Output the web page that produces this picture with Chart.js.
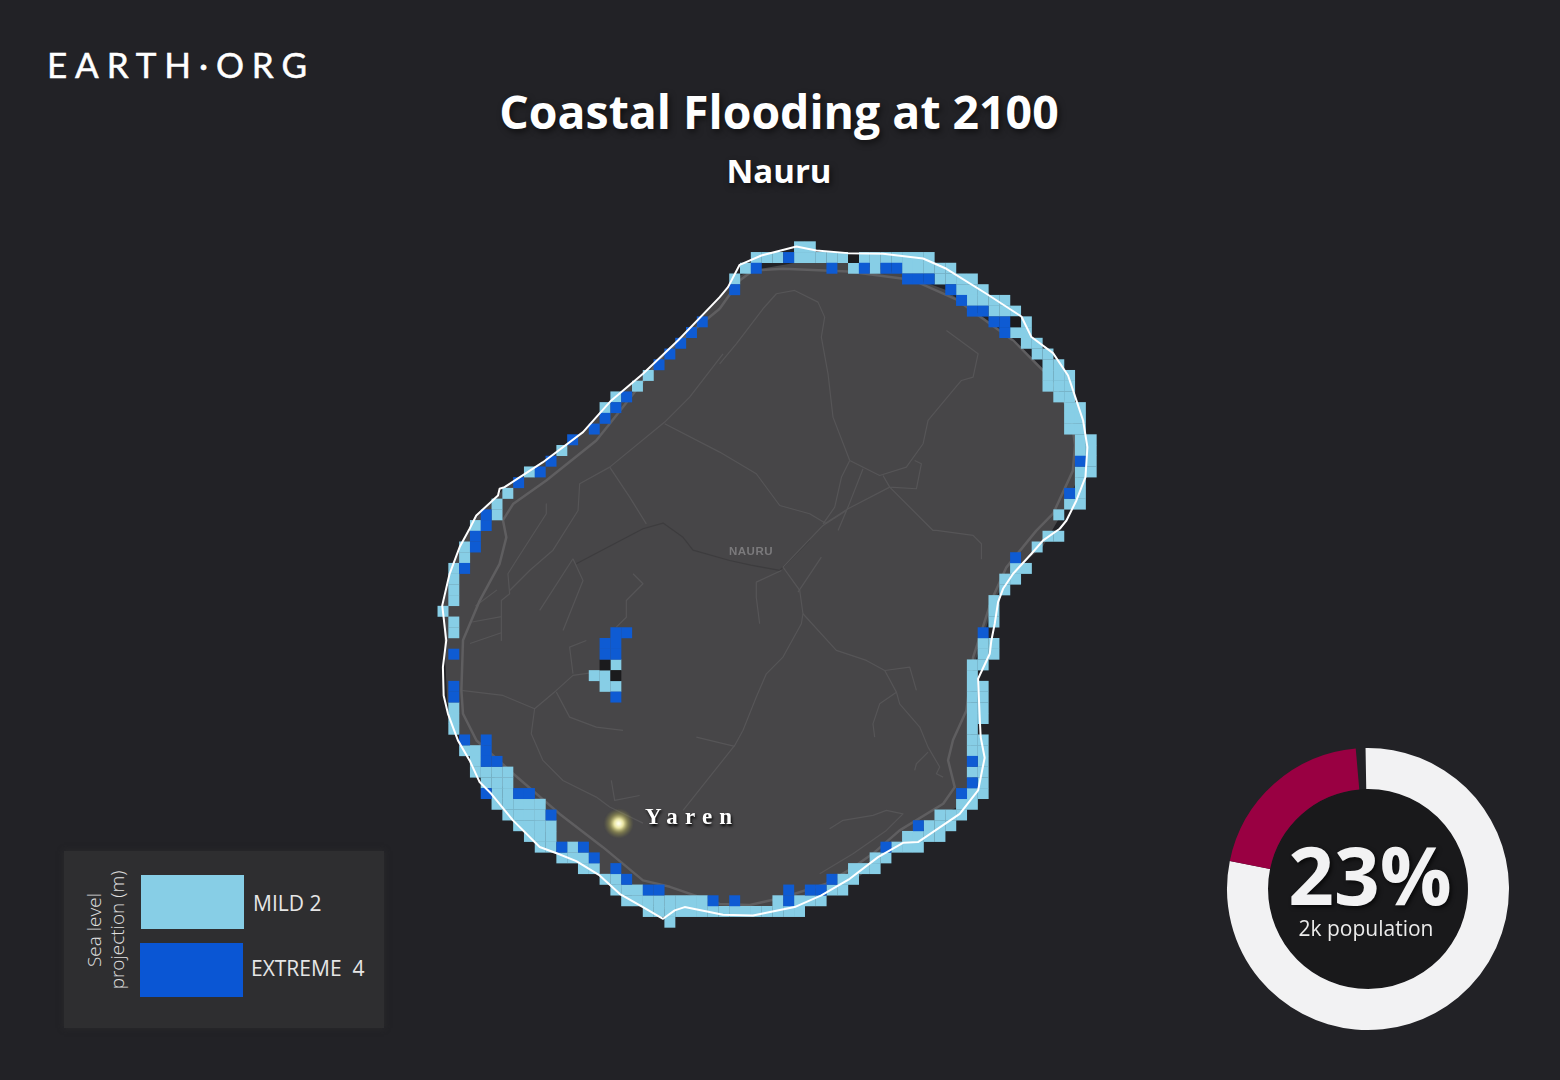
<!DOCTYPE html>
<html>
<head>
<meta charset="utf-8">
<title>Coastal Flooding at 2100 - Nauru</title>
<script src="https://cdn.jsdelivr.net/npm/chart.js@4/dist/chart.umd.min.js"></script>
<style>
html,body{margin:0;padding:0;background:#222226;}
body{width:1560px;height:1080px;position:relative;overflow:hidden;font-family:"Open Sans",sans-serif;color:#f2f2f2;}
canvas{position:absolute;display:block;}
.txt{position:absolute;white-space:nowrap;}
#logo{left:47px;top:43px;font:400 35px Lato,sans-serif;letter-spacing:7.9px;color:#fff;-webkit-text-stroke:.5px #fff;}
#title{left:0;width:1558px;top:79px;text-align:center;font-weight:700;font-size:46.4px;color:#fff;text-shadow:2px 3px 6px rgba(0,0,0,.55);}
#subtitle{left:0;width:1558px;top:148px;text-align:center;font-weight:700;font-size:33px;color:#fff;text-shadow:2px 3px 6px rgba(0,0,0,.55);}
#legendBox{position:absolute;left:64px;top:851px;width:320px;height:177px;background:#2e2e30;box-shadow:0 0 6px #2b2b2d;}
.swatch{position:absolute;width:103px;height:54px;}
.legTxt{font-weight:400;font-size:21px;color:#e6e6e6;}
.rot{transform:translate(-50%,-50%) rotate(-90deg);font-size:19px;font-weight:300;color:#e0e0e0;}
#donutHole{position:absolute;left:1268px;top:789px;width:200px;height:200px;border-radius:50%;background:#19191b;}
#pct{left:1230px;width:280px;top:819px;text-align:center;font-weight:700;font-size:80px;line-height:110px;color:#f2f2f3;text-shadow:2px 2px 4px rgba(0,0,0,.7);}
#pop{left:1226px;width:280px;top:914px;text-align:center;font-size:21px;color:#ececec;}
#nauru{left:729px;top:545px;font:700 11.5px "Liberation Sans",sans-serif;letter-spacing:.5px;color:#7b7a7c;}
#yaren{left:645px;top:804px;font:700 23px "Liberation Serif",serif;letter-spacing:7.2px;color:#fff;text-shadow:1px 2px 3px #000;}
</style>
</head>
<body>
<div id="legendBox"></div>
<div class="swatch" id="swMild" style="left:141px;top:875px;"></div>
<div class="swatch" id="swExtreme" style="left:140px;top:943px;"></div>
<div id="donutHole"></div>
<canvas id="mapChart" width="713" height="729" style="left:416px;top:220px;width:713px;height:729px;"></canvas>
<canvas id="donutChart" width="300" height="300" style="left:1218px;top:739px;width:300px;height:300px;"></canvas>

<div class="txt" id="logo">EARTH·ORG</div>
<div class="txt" id="title">Coastal Flooding at 2100</div>
<div class="txt" id="subtitle">Nauru</div>
<div class="txt" id="nauru">NAURU</div>
<div class="txt" id="yaren">Yaren</div>
<div class="txt legTxt" style="left:253px;top:889px;">MILD 2</div>
<div class="txt legTxt" style="left:251px;top:954px;">EXTREME&nbsp;&nbsp;4</div>
<div class="txt rot" style="left:94px;top:930px;">Sea level</div>
<div class="txt rot" style="left:117px;top:930px;">projection (m)</div>
<div class="txt" id="pct">23%</div>
<div class="txt" id="pop">2k population</div>

<script>
// flood cells on the map grid: [row, first column, last column]
const mildRuns = [
  [0,33,34],[1,29,31],[1,33,37],[1,39,45],[2,28,28],[2,38,38],[2,40,40],[2,43,47],[3,27,27],[3,46,49],
  [4,48,50],[5,49,52],[6,51,53],[7,54,54],[8,53,54],[9,54,55],[10,55,56],[11,56,57],[12,56,58],[13,56,58],
  [14,57,58],[15,58,59],[16,58,59],[17,58,59],[18,59,60],[19,59,60],[20,60,60],[21,59,60],[22,59,59],[23,59,59],
  [24,58,59],[25,57,57],[27,56,57],[28,55,55],[30,53,54],[31,52,53],[32,52,52],[33,51,51],[34,51,51],[35,51,51],
  [37,50,51],[38,50,51],[39,49,50],[40,49,49],[41,49,50],[42,49,50],[43,49,50],[44,49,50],[45,49,49],[46,49,50],
  [47,49,50],[48,50,50],[49,49,50],[50,50,50],[51,49,50],[52,48,49],[53,46,48],[54,45,47],[55,43,46],[56,42,44],
  [57,40,41],[58,38,40],[59,37,38],[60,36,37],[61,31,31],[61,33,35],[62,19,33],[63,21,21],
  [12,19,19],[13,18,18],[14,16,16],[15,15,15],[19,11,11],[21,8,8],[23,6,6],[24,5,5],[25,5,5],[26,3,3],
  [28,2,2],[29,2,2],[30,1,1],[31,1,1],[32,1,1],[33,1,1],[34,0,0],[35,1,1],[36,1,1],[43,1,1],[44,1,1],[45,1,1],
  [47,2,3],[48,3,3],[49,3,6],[50,4,6],[51,5,6],[52,5,9],[53,6,9],[54,7,10],[55,8,10],[56,9,10],[56,12,12],
  [57,11,13],[58,13,14],[59,15,16],[60,16,18],[61,17,24],[39,16,16],[40,14,15],[41,15,16]
];
const extremeRuns = [
  [1,32,32],[2,29,29],[2,36,36],[2,39,39],[2,41,42],[3,43,45],[4,27,27],[4,47,47],[5,48,48],[6,49,50],
  [7,51,52],[8,52,52],[20,59,59],[23,58,58],[29,53,53],[36,50,50],[48,49,49],[50,49,49],[51,48,48],[54,44,44],
  [56,41,41],[59,36,36],[60,32,32],[60,34,35],[61,32,32],[7,24,24],[8,23,23],[9,22,22],[10,21,21],[11,20,20],
  [14,17,17],[15,16,16],[16,15,15],[17,14,14],[18,12,12],[20,10,10],[21,9,9],[22,7,7],[25,4,4],[26,4,4],
  [27,3,3],[28,3,3],[30,2,2],[38,1,1],[41,1,1],[42,1,1],[46,2,2],[46,4,4],[47,4,4],[48,4,5],[51,4,4],[51,7,8],
  [53,10,10],[56,11,11],[56,13,13],[57,14,14],[58,16,16],[59,17,17],[60,19,20],[61,25,25],[61,27,27],
  [36,16,17],[37,15,16],[38,15,16],[42,16,16]
];
const noDataRuns = [[1,38,38],[7,53,53],[39,15,15],[40,16,16]];

// white boundary line, in grid units
const boundary = [
  [26.11,5.19],[26.88,4.26],[27.96,2.18],[29.97,1.31],[33.21,.47],[35.06,.84],[37.99,1.09],[41.23,1.15],[44.94,1.59],
  [47.1,2.55],[50.8,4.88],[54.04,7],[54.97,8.92],[56.97,10.42],[58.36,12.5],[59.13,14.83],[59.75,16.7],[60.15,19.19],
  [59.97,21.98],[59.13,24.16],[58.21,26.03],[57.59,26.8],[56.05,27.89],[54.97,29.13],[53.27,31],[52.34,32.4],[51.88,33.64],
  [51.57,35.66],[51.26,37.22],[51.11,38.46],[50.03,40.79],[50.18,44.37],[50.27,46.23],[50.64,48.16],[50.03,51.21],
  [48.33,53.39],[44.47,56.03],[43.08,56.09],[40.77,57.43],[38.15,59.45],[35.52,61],[33.05,62.09],[29.19,62.87],
  [26.42,62.81],[22.87,62.09],[21.95,62.4],[20.87,63.18],[19.01,62.09],[16.85,60.85],[15,59.14],[12.84,57.8],[11.14,57.12],
  [9.45,56.49],[6.98,54],[4.97,51.52],[3.89,50.43],[2.96,48.41],[1.88,46.54],[.96,44.06],[.56,42.35],[.49,39.7],[.8,37.22],
  [.43,33.96],[1.11,31],[2.04,28.51],[2.96,26.8],[3.58,25.56],[5.59,23.7],[5.74,23.07],[6.2,22.92],[9.75,20.59],
  [13.46,17.79],[14.69,16.39],[16.08,14.83],[19.01,12.34],[22.25,9.24],[26.11,5.19]
];
const land = [
  [26.11,5.19],[27.5,3.4],[29,2.7],[33,2],[38,2],[43,3],[47,4.5],[52,8.2],[56,12],[58,15],[59,18],[59.3,22],[58,25],
  [56,28.5],[53,31],[51.5,33.5],[50.5,37],[49.5,40],[49.3,45],[49.5,50],[48.5,52.5],[46,54],[42,57],[38,60],[33,62],
  [28,62.6],[21,62.3],[18,61],[15,59],[12,57.2],[10,55],[7,52],[4,48.5],[2,46],[.9,43],[.6,37],[.5,34],[1.2,31],
  [2.1,28.5],[3,26.8],[3.6,25.6],[5.6,23.7],[6.2,22.9],[9.75,20.59],[13.46,17.79],[14.69,16.39],[16.08,14.83],
  [19.01,12.34],[22.25,9.24],[26.11,5.19]
];

// road network, in grid units
const ringRoad = [
  [26.11,6.28],[27.96,3.64],[29.2,2.7],[32,2.55],[38,2.8],[44,3.6],[48,5.4],[53.27,9.23],[56.5,12.5],[58.6,16],[59,19],
  [58.8,21.4],[56.97,25.4],[55.4,27],[52.65,30.4],[51.26,33.5],[49.57,38.8],[48.95,43.75],[47.71,46.5],[47.25,48.4],
  [47.87,50.9],[46.8,52.45],[42.77,54.94],[40.3,57.1],[38.45,58.4],[35.98,59.9],[31.97,61.2],[28.9,61.9],[26.11,61.8],
  [21.5,60.2],[19.01,59.6],[15.3,56.5],[11.3,53.4],[7,49.65],[3.6,46.55],[2.35,44.06],[2.2,41.88],[2.35,37.2],[3.9,33.5],
  [5.74,30.07],[6.36,27.6],[6.05,26],[6.98,24.5],[10.06,22.3],[14.69,18.56],[15.93,17],[17.16,15.45],[21,10.5],[26.11,6.28]
];
const roads = [
  [[26.11,11.41],[27.65,9.55],[30.12,6.28],[31.36,4.88],[33.05,4.57],[35.21,5.66],[35.83,7.06],[35.52,8.92],[36.14,12.35],[36.6,16.39],[38.15,20.43]],
  [[38.15,20.43],[40.92,21.83],[43.39,21.05],[44.94,18.87],[45.4,16.7],[47.71,13.9],[48.49,12.97],[49.57,12.66],[50.03,10.48],[47.1,8.3]],
  [[21.02,17],[26.11,19.65],[29.5,21.67],[31.67,24.63],[34.44,25.4],[35.99,26.34]],
  [[26.42,10.48],[23.33,14.52],[21.02,16.85],[15.93,21.05],[13.15,22.6],[13,25.1],[10.68,28.8],[8.52,30.69],[6.67,32.56]],
  [[15.93,21.05],[17.78,23.85],[19.32,26.34]],
  [[38.15,20.43],[37.38,22],[36.76,24.78],[35.68,26.34]],
  [[39.38,21.2],[37.99,24.78],[37.07,26.96]],
  [[41.85,22.92],[37.99,24.94],[35.83,26.34]],
  [[41.23,21.83],[41.85,22.92],[44.32,23.07],[44.78,20.74],[44.16,20.43]],
  [[41.85,22.92],[45.86,26.96],[46.17,26.96],[49.57,27.42],[50.34,28.2],[50.34,29.6]],
  [[37.84,25.09],[35.68,26.49],[31.97,30.38],[33.52,32.55],[33.82,34.73],[33.67,35.66],[31.97,38.77],[30.43,40.33],[29.5,42.5],[28.27,45.6],[27.5,47.01],[22.72,53.07]],
  [[33.82,34.73],[36.91,38.15],[39.69,39.08],[41.39,40.02],[42.47,42.04],[40.92,43.13],[40.3,45],[40.46,46.23]],
  [[42.47,42.04],[42.77,43.13],[44.63,45.3],[45.4,47.17],[46.48,49.03],[46.17,49.65],[46.79,49.97]],
  [[41.39,40.02],[43.7,39.7],[44.32,41.88]],
  [[45.4,47.63],[44.32,48.72],[44.16,49.34]],
  [[35.52,29.44],[33.36,32.71]],
  [[29.5,31.78],[31.82,30.69]],
  [[29.5,31.78],[29.5,33.2],[29.81,35.66]],
  [[36.29,54.79],[37.53,54],[40.3,53.54],[41.54,53.07],[43.08,53.39],[41.54,54.94],[38.45,57.12],[35.37,58.98]],
  [[2.19,41.88],[6.05,42.35],[8.98,43.59],[10.99,41.88],[12.53,40.48],[14.69,40.17]],
  [[8.98,43.59],[8.67,45.92],[9.75,48.41],[11.6,50.28],[14.69,51.83],[15.93,52.76],[19.01,54.26]],
  [[16.08,50.28],[16.39,52.14],[18.7,51.68]],
  [[10.99,42.04],[12.22,44.37],[14.69,45.3],[17.16,45.61]],
  [[12.53,40.32],[12.22,37.84],[13.77,37.22]],
  [[23.95,46.23],[27.5,47.1]],
  [[12.53,29.6],[13.46,31.62],[11.61,36.29]],
  [[12.53,29.6],[9.45,34.42]],
  [[10.06,24.47],[10.06,25.4],[7.28,29.76],[6.51,31],[6.67,32.87],[5.9,33.49],[5.9,37.22]],
  [[18.09,31],[19.01,31.93],[17.47,33.49],[17.47,35.05],[16.54,35.97]],
  [[3.5,34],[5.5,32.5]],[[3.2,35.5],[5.9,35]],[[3,37.5],[5.9,36.5]]
];
const darkRoad = [[12.84,30.07],[19.01,26.8],[20.87,26.27],[22.72,27.6],[23.64,28.8],[27.04,29.76],[29,30.2],[31.66,30.69],[34.44,27.89]];
const capital = [[16.76,54.29]];

// donut: share of the ring, starts just left of twelve o'clock
const donutLabels = ['Not flooded','Flooded','Gap'];
const donutValues = [78.47,20.42,1.11];

const mildColor = '#87cee6';
const extremeColor = '#0e5bd3';

document.getElementById('swMild').style.background = mildColor;
document.getElementById('swExtreme').style.background = '#0a56d4';

const toPoints = pairs => pairs.map(p => ({x:p[0], y:p[1]}));

// expand [row, from, to] into one point per cell, in the middle of the cell
function cellPoints(runs){
  const pts = [];
  runs.forEach(r=>{
    for(let c=r[1]; c<=r[2]; c++) pts.push({x:c+0.5, y:r[0]+0.5});
  });
  return pts;
}

function cellDataset(label, runs, color){
  return {label, data:cellPoints(runs), pointStyle:'rect', pointRadius:7.75, pointBackgroundColor:color, pointBorderWidth:0, showLine:false};
}
function lineDataset(label, pairs, color, width){
  return {label, data:toPoints(pairs), showLine:true, borderColor:color, borderWidth:width, pointRadius:0, fill:false, tension:0, borderJoinStyle:'round'};
}

// little glowing star for the capital
function makeGlow(){
  const c = document.createElement('canvas');
  c.width = 36; c.height = 36;
  const g = c.getContext('2d');
  const grad = g.createRadialGradient(18,18,1,18,18,15);
  grad.addColorStop(0,'rgba(255,255,235,1)');
  grad.addColorStop(0.25,'rgba(245,240,170,.95)');
  grad.addColorStop(0.6,'rgba(190,185,90,.45)');
  grad.addColorStop(1,'rgba(150,150,70,0)');
  g.fillStyle = grad;
  g.fillRect(0,0,36,36);
  return c;
}

// first dataset ends up on top
const mapDatasets = [
  {label:'Yaren', data:toPoints(capital), pointStyle:makeGlow(), pointRadius:15, showLine:false},
  lineDataset('Boundary', boundary, '#ffffff', 2),
  cellDataset('EXTREME 4', extremeRuns, extremeColor),
  cellDataset('No data', noDataRuns, '#1b1b1d'),
  cellDataset('MILD 2', mildRuns, mildColor),
  lineDataset('Ring road', ringRoad, '#5f5e60', 2.5)
];
roads.forEach((r,i)=>mapDatasets.push(lineDataset('Road '+(i+1), r, '#565557', 1.2)));
mapDatasets.push(lineDataset('Dark road', darkRoad, '#3d3c3e', 1.2));
mapDatasets.push({label:'Land', data:toPoints(land), showLine:true, borderWidth:0, pointRadius:0, fill:'shape', backgroundColor:'#474648', tension:0});

new Chart(document.getElementById('mapChart').getContext('2d'),{
  type:'scatter',
  data:{datasets:mapDatasets},
  options:{
    responsive:false,
    animation:false,
    layout:{padding:0, autoPadding:false},
    plugins:{legend:{display:false}, tooltip:{enabled:false}},
    scales:{
      x:{type:'linear', min:-2, max:64, display:false},
      y:{type:'linear', min:-2, max:66, reverse:true, display:false}
    }
  }
});

new Chart(document.getElementById('donutChart').getContext('2d'),{
  type:'doughnut',
  data:{
    labels:donutLabels,
    datasets:[{data:donutValues, backgroundColor:['#f2f2f3','#990042','rgba(0,0,0,0)'], borderWidth:0, hoverOffset:0}]
  },
  options:{
    responsive:false,
    animation:false,
    rotation:-1,
    cutout:'70.9%',
    layout:{padding:9},
    plugins:{legend:{display:false}, tooltip:{enabled:false}}
  }
});
</script>
</body>
</html>
